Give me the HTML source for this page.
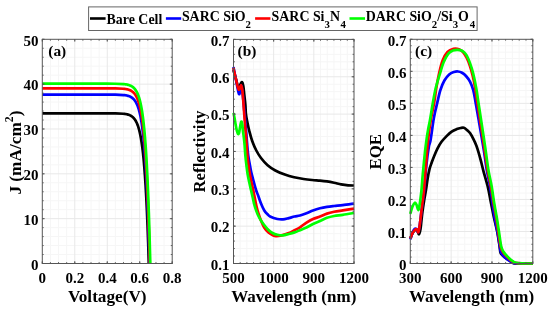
<!DOCTYPE html><html><head><meta charset="utf-8"><style>html,body{margin:0;padding:0;background:#fff;width:550px;height:313px;overflow:hidden}svg{display:block}text{font-family:"Liberation Serif", "Times New Roman", serif;font-weight:bold;fill:#000}</style></head><body>
<svg width="550" height="313" viewBox="0 0 550 313">
<rect width="550" height="313" fill="#fff"/>
<defs>
<clipPath id="ca"><rect x="40.8" y="39.3" width="132.9" height="225.7"/></clipPath>
<clipPath id="cb"><rect x="232" y="39.4" width="123.5" height="225.6"/></clipPath>
<clipPath id="cc"><rect x="408.8" y="39.3" width="125.5" height="225.7"/></clipPath>
</defs>
<path d="M50.42 39.3V263.5M58.54 39.3V263.5M66.66 39.3V263.5M82.89 39.3V263.5M91.01 39.3V263.5M99.13 39.3V263.5M115.37 39.3V263.5M123.49 39.3V263.5M131.61 39.3V263.5M147.84 39.3V263.5M155.96 39.3V263.5M164.08 39.3V263.5M42.3 254.53H172.2M42.3 245.56H172.2M42.3 236.6H172.2M42.3 227.63H172.2M42.3 209.69H172.2M42.3 200.72H172.2M42.3 191.76H172.2M42.3 182.79H172.2M42.3 164.85H172.2M42.3 155.88H172.2M42.3 146.92H172.2M42.3 137.95H172.2M42.3 120.01H172.2M42.3 111.04H172.2M42.3 102.08H172.2M42.3 93.11H172.2M42.3 75.17H172.2M42.3 66.2H172.2M42.3 57.24H172.2M42.3 48.27H172.2" stroke="#f6f6f6" stroke-width="1" fill="none"/>
<path d="M74.77 39.3V263.5M107.25 39.3V263.5M139.72 39.3V263.5M42.3 218.66H172.2M42.3 173.82H172.2M42.3 128.98H172.2M42.3 84.14H172.2" stroke="#e8e8e8" stroke-width="1" fill="none"/>
<polyline points="42.3,113.29 50.42,113.29 58.54,113.29 66.66,113.29 74.77,113.29 82.89,113.29 91.01,113.29 99.13,113.29 107.25,113.3 115.37,113.36 123.49,113.75 124.14,113.83 124.79,113.91 125.44,114.01 126.09,114.13 126.73,114.26 127.38,114.42 128.03,114.6 128.68,114.81 129.33,115.05 129.98,115.33 130.63,115.66 131.28,116.04 131.93,116.48 132.58,116.99 133.23,117.58 133.88,118.26 134.53,119.06 135.18,119.98 135.83,121.05 136.48,122.29 137.13,123.72 137.78,125.39 138.43,127.32 139.08,129.56 139.72,132.16 140.37,135.18 141.02,138.67 141.67,142.73 142.32,147.43 142.97,152.88 143.62,159.2 144.27,166.54 144.92,175.04 145.57,184.9 146.22,196.34 146.87,209.6 147.52,224.98 148.17,242.82 148.82,263.5 148.82,263.5" stroke="#000" stroke-width="2.7" fill="none" stroke-linejoin="round" clip-path="url(#ca)"/>
<polyline points="42.3,94.59 50.42,94.59 58.54,94.59 66.66,94.59 74.77,94.59 82.89,94.59 91.01,94.59 99.13,94.59 107.25,94.6 115.37,94.66 123.49,95.04 124.14,95.11 124.79,95.19 125.44,95.29 126.09,95.4 126.73,95.53 127.38,95.68 128.03,95.86 128.68,96.06 129.33,96.3 129.98,96.57 130.63,96.89 131.28,97.26 131.93,97.68 132.58,98.18 133.23,98.75 133.88,99.41 134.53,100.18 135.18,101.08 135.83,102.11 136.48,103.31 137.13,104.71 137.78,106.32 138.43,108.2 139.08,110.37 139.72,112.89 140.37,115.82 141.02,119.21 141.67,123.14 142.32,127.69 142.97,132.98 143.62,139.11 144.27,146.22 144.92,154.47 145.57,164.03 146.22,175.12 146.87,187.98 147.52,202.89 148.17,220.19 148.82,240.24 149.47,263.5 149.47,263.5" stroke="#0000ff" stroke-width="2.7" fill="none" stroke-linejoin="round" clip-path="url(#ca)"/>
<polyline points="42.3,88.31 50.42,88.31 58.54,88.31 66.66,88.31 74.77,88.31 82.89,88.31 91.01,88.31 99.13,88.31 107.25,88.32 115.37,88.38 123.49,88.74 124.14,88.81 124.79,88.89 125.44,88.99 126.09,89.1 126.73,89.22 127.38,89.37 128.03,89.54 128.68,89.73 129.33,89.96 129.98,90.22 130.63,90.53 131.28,90.88 131.93,91.29 132.58,91.77 133.23,92.32 133.88,92.96 134.53,93.7 135.18,94.56 135.83,95.56 136.48,96.72 137.13,98.06 137.78,99.61 138.43,101.42 139.08,103.51 139.72,105.94 140.37,108.75 141.02,112.02 141.67,115.81 142.32,120.2 142.97,125.29 143.62,131.19 144.27,138.04 144.92,145.98 145.57,155.19 146.22,165.87 146.87,178.26 147.52,192.62 148.17,209.27 148.82,228.59 149.47,250.99 149.79,263.5" stroke="#ff0000" stroke-width="2.7" fill="none" stroke-linejoin="round" clip-path="url(#ca)"/>
<polyline points="42.3,83.69 50.42,83.69 58.54,83.69 66.66,83.69 74.77,83.69 82.89,83.69 91.01,83.69 99.13,83.69 107.25,83.7 115.37,83.75 123.49,84.09 124.14,84.15 124.79,84.23 125.44,84.31 126.09,84.41 126.73,84.53 127.38,84.66 128.03,84.82 128.68,85 129.33,85.2 129.98,85.45 130.63,85.73 131.28,86.05 131.93,86.43 132.58,86.87 133.23,87.37 133.88,87.96 134.53,88.64 135.18,89.43 135.83,90.35 136.48,91.41 137.13,92.64 137.78,94.07 138.43,95.73 139.08,97.65 139.72,99.88 140.37,102.47 141.02,105.47 141.67,108.94 142.32,112.98 142.97,117.65 143.62,123.08 144.27,129.37 144.92,136.66 145.57,145.12 146.22,154.93 146.87,166.3 147.52,179.49 148.17,194.79 148.82,212.53 149.47,233.1 150.12,256.96 150.28,263.5" stroke="#00ff00" stroke-width="2.7" fill="none" stroke-linejoin="round" clip-path="url(#ca)"/>
<path d="M42.3 263.5v-1.4M42.3 39.3v1.4M50.42 263.5v-1.4M50.42 39.3v1.4M58.54 263.5v-1.4M58.54 39.3v1.4M66.66 263.5v-1.4M66.66 39.3v1.4M74.77 263.5v-1.4M74.77 39.3v1.4M82.89 263.5v-1.4M82.89 39.3v1.4M91.01 263.5v-1.4M91.01 39.3v1.4M99.13 263.5v-1.4M99.13 39.3v1.4M107.25 263.5v-1.4M107.25 39.3v1.4M115.37 263.5v-1.4M115.37 39.3v1.4M123.49 263.5v-1.4M123.49 39.3v1.4M131.61 263.5v-1.4M131.61 39.3v1.4M139.72 263.5v-1.4M139.72 39.3v1.4M147.84 263.5v-1.4M147.84 39.3v1.4M155.96 263.5v-1.4M155.96 39.3v1.4M164.08 263.5v-1.4M164.08 39.3v1.4M172.2 263.5v-1.4M172.2 39.3v1.4M42.3 263.5v-2.4M42.3 39.3v2.4M74.77 263.5v-2.4M74.77 39.3v2.4M107.25 263.5v-2.4M107.25 39.3v2.4M139.72 263.5v-2.4M139.72 39.3v2.4M172.2 263.5v-2.4M172.2 39.3v2.4M42.3 263.5h1.4M172.2 263.5h-1.4M42.3 254.53h1.4M172.2 254.53h-1.4M42.3 245.56h1.4M172.2 245.56h-1.4M42.3 236.6h1.4M172.2 236.6h-1.4M42.3 227.63h1.4M172.2 227.63h-1.4M42.3 218.66h1.4M172.2 218.66h-1.4M42.3 209.69h1.4M172.2 209.69h-1.4M42.3 200.72h1.4M172.2 200.72h-1.4M42.3 191.76h1.4M172.2 191.76h-1.4M42.3 182.79h1.4M172.2 182.79h-1.4M42.3 173.82h1.4M172.2 173.82h-1.4M42.3 164.85h1.4M172.2 164.85h-1.4M42.3 155.88h1.4M172.2 155.88h-1.4M42.3 146.92h1.4M172.2 146.92h-1.4M42.3 137.95h1.4M172.2 137.95h-1.4M42.3 128.98h1.4M172.2 128.98h-1.4M42.3 120.01h1.4M172.2 120.01h-1.4M42.3 111.04h1.4M172.2 111.04h-1.4M42.3 102.08h1.4M172.2 102.08h-1.4M42.3 93.11h1.4M172.2 93.11h-1.4M42.3 84.14h1.4M172.2 84.14h-1.4M42.3 75.17h1.4M172.2 75.17h-1.4M42.3 66.2h1.4M172.2 66.2h-1.4M42.3 57.24h1.4M172.2 57.24h-1.4M42.3 48.27h1.4M172.2 48.27h-1.4M42.3 39.3h1.4M172.2 39.3h-1.4M42.3 263.5h2.4M172.2 263.5h-2.4M42.3 218.66h2.4M172.2 218.66h-2.4M42.3 173.82h2.4M172.2 173.82h-2.4M42.3 128.98h2.4M172.2 128.98h-2.4M42.3 84.14h2.4M172.2 84.14h-2.4M42.3 39.3h2.4M172.2 39.3h-2.4" stroke="#555555" stroke-width="0.9" fill="none"/>
<rect x="42.3" y="39.3" width="129.9" height="224.2" fill="none" stroke="#555555" stroke-width="1"/>
<path d="M240.19 39.4V263.5M246.89 39.4V263.5M253.58 39.4V263.5M260.28 39.4V263.5M266.97 39.4V263.5M280.36 39.4V263.5M287.06 39.4V263.5M293.75 39.4V263.5M300.44 39.4V263.5M307.14 39.4V263.5M320.53 39.4V263.5M327.22 39.4V263.5M333.92 39.4V263.5M340.61 39.4V263.5M347.31 39.4V263.5M233.5 256.03H354M233.5 248.56H354M233.5 241.09H354M233.5 233.62H354M233.5 218.68H354M233.5 211.21H354M233.5 203.74H354M233.5 196.27H354M233.5 181.33H354M233.5 173.86H354M233.5 166.39H354M233.5 158.92H354M233.5 143.98H354M233.5 136.51H354M233.5 129.04H354M233.5 121.57H354M233.5 106.63H354M233.5 99.16H354M233.5 91.69H354M233.5 84.22H354M233.5 69.28H354M233.5 61.81H354M233.5 54.34H354M233.5 46.87H354" stroke="#f6f6f6" stroke-width="1" fill="none"/>
<path d="M273.67 39.4V263.5M313.83 39.4V263.5M233.5 226.15H354M233.5 188.8H354M233.5 151.45H354M233.5 114.1H354M233.5 76.75H354" stroke="#e8e8e8" stroke-width="1" fill="none"/>
<path d="M233.4 70C233.83 71.5 235.12 75.83 236 79C236.88 82.17 237.95 88.17 238.7 89C239.45 89.83 239.93 85.13 240.5 84C241.07 82.87 241.63 81.87 242.1 82.2C242.57 82.53 242.93 83.87 243.3 86C243.67 88.13 243.95 91.83 244.3 95C244.65 98.17 245.13 101.83 245.4 105C245.67 108.17 245.58 111.17 245.9 114C246.22 116.83 246.73 119.17 247.3 122C247.87 124.83 248.48 127.83 249.3 131C250.12 134.17 251.03 137.75 252.2 141C253.37 144.25 254.83 147.67 256.3 150.5C257.77 153.33 259.12 155.55 261 158C262.88 160.45 265.22 163.12 267.6 165.2C269.98 167.28 272.43 168.93 275.3 170.5C278.17 172.07 281.67 173.47 284.8 174.6C287.93 175.73 290.97 176.57 294.1 177.3C297.23 178.03 300.58 178.55 303.6 179C306.62 179.45 309.47 179.73 312.2 180C314.93 180.27 317.53 180.37 320 180.6C322.47 180.83 324.65 181.05 327 181.4C329.35 181.75 331.75 182.22 334.1 182.7C336.45 183.18 338.77 183.87 341.1 184.3C343.43 184.73 345.95 185.1 348.1 185.3C350.25 185.5 353.02 185.47 354 185.5" stroke="#000" stroke-width="2.7" fill="none" stroke-linejoin="round" stroke-linecap="butt" clip-path="url(#cb)"/>
<path d="M233.4 67.1C233.83 69.25 235.07 75.52 236 80C236.93 84.48 238.23 92.67 239 94C239.77 95.33 240.22 89.33 240.6 88C240.98 86.67 240.93 84.83 241.3 86C241.67 87.17 242.3 90.83 242.8 95C243.3 99.17 243.8 105.67 244.3 111C244.8 116.33 245.32 121.33 245.8 127C246.28 132.67 246.78 140.17 247.2 145C247.62 149.83 247.88 152.83 248.3 156C248.72 159.17 249.22 161.33 249.7 164C250.18 166.67 250.65 169.5 251.2 172C251.75 174.5 252.43 176.83 253 179C253.57 181.17 254.07 183.08 254.6 185C255.13 186.92 255.67 188.9 256.2 190.5C256.73 192.1 257 192.43 257.8 194.6C258.6 196.77 259.92 200.85 261 203.5C262.08 206.15 263.22 208.7 264.3 210.5C265.38 212.3 266.53 213.3 267.5 214.3C268.47 215.3 268.47 215.72 270.1 216.5C271.73 217.28 275.15 218.52 277.3 219C279.45 219.48 281.08 219.55 283 219.4C284.92 219.25 286.88 218.58 288.8 218.1C290.72 217.62 292.63 216.93 294.5 216.5C296.37 216.07 298 216.05 300 215.5C302 214.95 304.33 214.03 306.5 213.2C308.67 212.37 310.75 211.32 313 210.5C315.25 209.68 317.67 208.9 320 208.3C322.33 207.7 324.65 207.28 327 206.9C329.35 206.52 331.47 206.3 334.1 206C336.73 205.7 339.48 205.5 342.8 205.1C346.12 204.7 352.13 203.85 354 203.6" stroke="#0000ff" stroke-width="2.7" fill="none" stroke-linejoin="round" stroke-linecap="butt" clip-path="url(#cb)"/>
<path d="M233.4 67.9C233.83 69.83 235.12 75.88 236 79.5C236.88 83.12 237.87 88.68 238.7 89.6C239.53 90.52 240.4 84.93 241 85C241.6 85.07 241.93 87.5 242.3 90C242.67 92.5 242.92 96.5 243.2 100C243.48 103.5 243.7 107 244 111C244.3 115 244.68 120 245 124C245.32 128 245.63 131.5 245.9 135C246.17 138.5 246.33 141.33 246.6 145C246.87 148.67 247.17 153.5 247.5 157C247.83 160.5 248.22 163.17 248.6 166C248.98 168.83 249.33 171.33 249.8 174C250.27 176.67 250.83 179.33 251.4 182C251.97 184.67 252.63 187.33 253.2 190C253.77 192.67 254.27 195.33 254.8 198C255.33 200.67 255.77 203.33 256.4 206C257.03 208.67 257.83 211.58 258.6 214C259.37 216.42 260.07 218.25 261 220.5C261.93 222.75 262.95 225.5 264.2 227.5C265.45 229.5 267.12 231.25 268.5 232.5C269.88 233.75 271.25 234.4 272.5 235C273.75 235.6 274.48 236.03 276 236.1C277.52 236.17 279.47 235.9 281.6 235.4C283.73 234.9 286.65 233.97 288.8 233.1C290.95 232.23 292.63 231.17 294.5 230.2C296.37 229.23 298 228.57 300 227.3C302 226.03 304.33 223.98 306.5 222.6C308.67 221.22 310.75 220 313 219C315.25 218 317.67 217.5 320 216.6C322.33 215.7 324.65 214.4 327 213.6C329.35 212.8 331.47 212.33 334.1 211.8C336.73 211.27 339.48 210.92 342.8 210.4C346.12 209.88 352.13 208.98 354 208.7" stroke="#ff0000" stroke-width="2.7" fill="none" stroke-linejoin="round" stroke-linecap="butt" clip-path="url(#cb)"/>
<path d="M233.5 113C233.68 113.92 234.23 116.5 234.6 118.5C234.97 120.5 235.33 123 235.7 125C236.07 127 236.43 129.03 236.8 130.5C237.17 131.97 237.53 133.38 237.9 133.8C238.27 134.22 238.63 134.13 239 133C239.37 131.87 239.77 128.78 240.1 127C240.43 125.22 240.73 123.17 241 122.3C241.27 121.43 241.47 121.35 241.7 121.8C241.93 122.25 242.2 123.53 242.4 125C242.6 126.47 242.65 128.43 242.9 130.6C243.15 132.77 243.62 135.6 243.9 138C244.18 140.4 244.35 142 244.6 145C244.85 148 245.1 152.67 245.4 156C245.7 159.33 246.03 162 246.4 165C246.77 168 247.13 171.17 247.6 174C248.07 176.83 248.63 179.33 249.2 182C249.77 184.67 250.43 187.5 251 190C251.57 192.5 252 194.38 252.6 197C253.2 199.62 253.78 202.87 254.6 205.7C255.42 208.53 256.52 211.65 257.5 214C258.48 216.35 259.42 218 260.5 219.8C261.58 221.6 262.75 223.18 264 224.8C265.25 226.42 266.58 228.13 268 229.5C269.42 230.87 270.95 232.12 272.5 233C274.05 233.88 275.55 234.42 277.3 234.8C279.05 235.18 281.08 235.43 283 235.3C284.92 235.17 286.88 234.48 288.8 234C290.72 233.52 292.63 233.03 294.5 232.4C296.37 231.77 298 231.02 300 230.2C302 229.38 304.33 228.53 306.5 227.5C308.67 226.47 310.75 225.08 313 224C315.25 222.92 317.67 222.03 320 221C322.33 219.97 324.65 218.63 327 217.8C329.35 216.97 331.47 216.5 334.1 216C336.73 215.5 339.48 215.32 342.8 214.8C346.12 214.28 352.13 213.22 354 212.9" stroke="#00ff00" stroke-width="2.7" fill="none" stroke-linejoin="round" stroke-linecap="butt" clip-path="url(#cb)"/>
<path d="M233.5 263.5v-1.4M233.5 39.4v1.4M240.19 263.5v-1.4M240.19 39.4v1.4M246.89 263.5v-1.4M246.89 39.4v1.4M253.58 263.5v-1.4M253.58 39.4v1.4M260.28 263.5v-1.4M260.28 39.4v1.4M266.97 263.5v-1.4M266.97 39.4v1.4M273.67 263.5v-1.4M273.67 39.4v1.4M280.36 263.5v-1.4M280.36 39.4v1.4M287.06 263.5v-1.4M287.06 39.4v1.4M293.75 263.5v-1.4M293.75 39.4v1.4M300.44 263.5v-1.4M300.44 39.4v1.4M307.14 263.5v-1.4M307.14 39.4v1.4M313.83 263.5v-1.4M313.83 39.4v1.4M320.53 263.5v-1.4M320.53 39.4v1.4M327.22 263.5v-1.4M327.22 39.4v1.4M333.92 263.5v-1.4M333.92 39.4v1.4M340.61 263.5v-1.4M340.61 39.4v1.4M347.31 263.5v-1.4M347.31 39.4v1.4M354 263.5v-1.4M354 39.4v1.4M233.5 263.5v-2.4M233.5 39.4v2.4M273.67 263.5v-2.4M273.67 39.4v2.4M313.83 263.5v-2.4M313.83 39.4v2.4M354 263.5v-2.4M354 39.4v2.4M233.5 263.5h1.4M354 263.5h-1.4M233.5 256.03h1.4M354 256.03h-1.4M233.5 248.56h1.4M354 248.56h-1.4M233.5 241.09h1.4M354 241.09h-1.4M233.5 233.62h1.4M354 233.62h-1.4M233.5 226.15h1.4M354 226.15h-1.4M233.5 218.68h1.4M354 218.68h-1.4M233.5 211.21h1.4M354 211.21h-1.4M233.5 203.74h1.4M354 203.74h-1.4M233.5 196.27h1.4M354 196.27h-1.4M233.5 188.8h1.4M354 188.8h-1.4M233.5 181.33h1.4M354 181.33h-1.4M233.5 173.86h1.4M354 173.86h-1.4M233.5 166.39h1.4M354 166.39h-1.4M233.5 158.92h1.4M354 158.92h-1.4M233.5 151.45h1.4M354 151.45h-1.4M233.5 143.98h1.4M354 143.98h-1.4M233.5 136.51h1.4M354 136.51h-1.4M233.5 129.04h1.4M354 129.04h-1.4M233.5 121.57h1.4M354 121.57h-1.4M233.5 114.1h1.4M354 114.1h-1.4M233.5 106.63h1.4M354 106.63h-1.4M233.5 99.16h1.4M354 99.16h-1.4M233.5 91.69h1.4M354 91.69h-1.4M233.5 84.22h1.4M354 84.22h-1.4M233.5 76.75h1.4M354 76.75h-1.4M233.5 69.28h1.4M354 69.28h-1.4M233.5 61.81h1.4M354 61.81h-1.4M233.5 54.34h1.4M354 54.34h-1.4M233.5 46.87h1.4M354 46.87h-1.4M233.5 39.4h1.4M354 39.4h-1.4M233.5 263.5h2.4M354 263.5h-2.4M233.5 226.15h2.4M354 226.15h-2.4M233.5 188.8h2.4M354 188.8h-2.4M233.5 151.45h2.4M354 151.45h-2.4M233.5 114.1h2.4M354 114.1h-2.4M233.5 76.75h2.4M354 76.75h-2.4M233.5 39.4h2.4M354 39.4h-2.4" stroke="#555555" stroke-width="0.9" fill="none"/>
<rect x="233.5" y="39.4" width="120.5" height="224.1" fill="none" stroke="#555555" stroke-width="1"/>
<path d="M417.11 39.3V263.5M423.91 39.3V263.5M430.72 39.3V263.5M437.52 39.3V263.5M444.33 39.3V263.5M457.94 39.3V263.5M464.74 39.3V263.5M471.55 39.3V263.5M478.36 39.3V263.5M485.16 39.3V263.5M498.77 39.3V263.5M505.58 39.3V263.5M512.38 39.3V263.5M519.19 39.3V263.5M525.99 39.3V263.5M410.3 257.09H532.8M410.3 250.69H532.8M410.3 244.28H532.8M410.3 237.88H532.8M410.3 225.07H532.8M410.3 218.66H532.8M410.3 212.25H532.8M410.3 205.85H532.8M410.3 193.04H532.8M410.3 186.63H532.8M410.3 180.23H532.8M410.3 173.82H532.8M410.3 161.01H532.8M410.3 154.6H532.8M410.3 148.2H532.8M410.3 141.79H532.8M410.3 128.98H532.8M410.3 122.57H532.8M410.3 116.17H532.8M410.3 109.76H532.8M410.3 96.95H532.8M410.3 90.55H532.8M410.3 84.14H532.8M410.3 77.73H532.8M410.3 64.92H532.8M410.3 58.52H532.8M410.3 52.11H532.8M410.3 45.71H532.8" stroke="#f6f6f6" stroke-width="1" fill="none"/>
<path d="M451.13 39.3V263.5M491.97 39.3V263.5M410.3 231.47H532.8M410.3 199.44H532.8M410.3 167.41H532.8M410.3 135.39H532.8M410.3 103.36H532.8M410.3 71.33H532.8" stroke="#e8e8e8" stroke-width="1" fill="none"/>
<path d="M410.3 238.5C410.72 237.53 411.9 234.22 412.8 232.7C413.7 231.18 414.9 229.6 415.7 229.4C416.5 229.2 417.05 230.7 417.6 231.5C418.15 232.3 418.52 234.62 419 234.2C419.48 233.78 420.08 231.37 420.5 229C420.92 226.63 421.18 222.83 421.5 220C421.82 217.17 421.95 215.33 422.4 212C422.85 208.67 423.6 203.68 424.2 200C424.8 196.32 425.43 193.45 426 189.9C426.57 186.35 427.02 182.17 427.6 178.7C428.18 175.23 428.83 171.75 429.5 169.1C430.17 166.45 430.85 164.92 431.6 162.8C432.35 160.68 432.98 158.83 434 156.4C435.02 153.97 436.45 150.63 437.7 148.2C438.95 145.77 440.02 143.82 441.5 141.8C442.98 139.78 444.9 137.8 446.6 136.1C448.3 134.4 450 132.77 451.7 131.6C453.4 130.43 455.3 129.7 456.8 129.1C458.3 128.5 459.52 128.22 460.7 128C461.88 127.78 462.83 127.45 463.9 127.8C464.97 128.15 466.08 129.23 467.1 130.1C468.12 130.97 468.98 131.58 470 133C471.02 134.42 472.13 136.48 473.2 138.6C474.27 140.72 475.48 143.32 476.4 145.7C477.32 148.08 477.92 150.23 478.7 152.9C479.48 155.57 480.3 158.63 481.1 161.7C481.9 164.77 482.42 167.25 483.5 171.3C484.58 175.35 486.38 180.9 487.6 186C488.82 191.1 489.73 196.6 490.8 201.9C491.87 207.2 492.92 212.78 494 217.8C495.08 222.82 496.38 227.38 497.3 232C498.22 236.62 498.93 241.98 499.5 245.5C500.07 249.02 499.8 251.12 500.7 253.1C501.6 255.08 503.35 256.12 504.9 257.4C506.45 258.68 508.58 259.83 510 260.8C511.42 261.77 511.73 262.73 513.4 263.2C515.07 263.67 516.73 263.53 520 263.6C523.27 263.67 530.83 263.6 533 263.6" stroke="#000" stroke-width="2.7" fill="none" stroke-linejoin="round" stroke-linecap="butt" clip-path="url(#cc)"/>
<path d="M410.3 239.4C410.67 238.28 411.77 234.45 412.5 232.7C413.23 230.95 413.98 229.43 414.7 228.9C415.42 228.37 416.22 228.98 416.8 229.5C417.38 230.02 417.75 232.5 418.2 232C418.65 231.5 419.03 229.33 419.5 226.5C419.97 223.67 420.5 218.92 421 215C421.5 211.08 422 206.83 422.5 203C423 199.17 423.33 198.5 424 192C424.67 185.5 425.7 171.5 426.5 164C427.3 156.5 428.12 151 428.8 147C429.48 143 429.82 144.48 430.6 140C431.38 135.52 432.75 124.77 433.5 120.1C434.25 115.43 434.47 114.92 435.1 112C435.73 109.08 436.42 106.27 437.3 102.6C438.18 98.93 439.22 93.68 440.4 90C441.58 86.32 442.93 83.1 444.4 80.5C445.87 77.9 447.6 75.82 449.2 74.4C450.8 72.98 452.53 72.48 454 72C455.47 71.52 456.67 71.37 458 71.5C459.33 71.63 460.67 72.05 462 72.8C463.33 73.55 464.67 74.53 466 76C467.33 77.47 468.8 79.27 470 81.6C471.2 83.93 472.27 86.53 473.2 90C474.13 93.47 474.55 96.62 475.6 102.4C476.65 108.18 478.13 116.77 479.5 124.7C480.87 132.63 482.58 142.45 483.8 150C485.02 157.55 485.77 164 486.8 170C487.83 176 489.07 180.67 490 186C490.93 191.33 491.62 196.7 492.4 202C493.18 207.3 493.85 212.8 494.7 217.8C495.55 222.8 496.65 227.3 497.5 232C498.35 236.7 499.22 242.58 499.8 246C500.38 249.42 500.13 250.58 501 252.5C501.87 254.42 503.5 256.08 505 257.5C506.5 258.92 508.5 260.05 510 261C511.5 261.95 510.17 262.78 514 263.2C517.83 263.62 529.83 263.45 533 263.5" stroke="#0000ff" stroke-width="2.7" fill="none" stroke-linejoin="round" stroke-linecap="butt" clip-path="url(#cc)"/>
<path d="M410.3 238.5C410.72 237.53 411.93 234.23 412.8 232.7C413.67 231.17 414.78 229.78 415.5 229.3C416.22 228.82 416.63 229.32 417.1 229.8C417.57 230.28 417.9 232.75 418.3 232.2C418.7 231.65 419.05 229.37 419.5 226.5C419.95 223.63 420.53 218.75 421 215C421.47 211.25 421.85 207.72 422.3 204C422.75 200.28 423.15 198.37 423.7 192.7C424.25 187.03 425.05 176.78 425.6 170C426.15 163.22 426.55 157.33 427 152C427.45 146.67 427.67 143.32 428.3 138C428.93 132.68 429.82 126 430.8 120.1C431.78 114.2 433.28 107.95 434.2 102.6C435.12 97.25 435.47 92.93 436.3 88C437.13 83.07 438.15 77.58 439.2 73C440.25 68.42 441.22 64 442.6 60.5C443.98 57 445.68 53.95 447.5 52C449.32 50.05 451.58 49.27 453.5 48.8C455.42 48.33 457.42 48.67 459 49.2C460.58 49.73 461.75 50.62 463 52C464.25 53.38 465.37 55.25 466.5 57.5C467.63 59.75 468.8 62.58 469.8 65.5C470.8 68.42 471.67 71.58 472.5 75C473.33 78.42 474 81.43 474.8 86C475.6 90.57 476.3 95.95 477.3 102.4C478.3 108.85 479.63 117.1 480.8 124.7C481.97 132.3 483.17 140.45 484.3 148C485.43 155.55 486.52 163.67 487.6 170C488.68 176.33 489.83 180.67 490.8 186C491.77 191.33 492.5 196.67 493.4 202C494.3 207.33 495.38 213 496.2 218C497.02 223 497.58 227.33 498.3 232C499.02 236.67 499.8 242.75 500.5 246C501.2 249.25 501.33 249.6 502.5 251.5C503.67 253.4 505.83 255.72 507.5 257.4C509.17 259.08 510.92 260.63 512.5 261.6C514.08 262.57 513.58 262.88 517 263.2C520.42 263.52 530.33 263.45 533 263.5" stroke="#ff0000" stroke-width="2.7" fill="none" stroke-linejoin="round" stroke-linecap="butt" clip-path="url(#cc)"/>
<path d="M410.3 213.8C410.67 212.58 411.73 208.35 412.5 206.5C413.27 204.65 414.22 202.95 414.9 202.7C415.58 202.45 416.05 203.78 416.6 205C417.15 206.22 417.73 209.83 418.2 210C418.67 210.17 419.05 207.67 419.4 206C419.75 204.33 419.95 202.67 420.3 200C420.65 197.33 421.08 194.33 421.5 190C421.92 185.67 422.22 180.33 422.8 174C423.38 167.67 424.33 158.05 425 152C425.67 145.95 426.23 141.7 426.8 137.7C427.37 133.7 427.87 130.93 428.4 128C428.93 125.07 429.25 124.33 430 120.1C430.75 115.87 431.98 107.78 432.9 102.6C433.82 97.42 434.4 93.57 435.5 89C436.6 84.43 438.17 79.63 439.5 75.2C440.83 70.77 442.05 65.97 443.5 62.4C444.95 58.83 446.65 55.77 448.2 53.8C449.75 51.83 451.27 51.27 452.8 50.6C454.33 49.93 455.87 49.77 457.4 49.8C458.93 49.83 460.53 49.97 462 50.8C463.47 51.63 464.87 52.73 466.2 54.8C467.53 56.87 468.83 60.07 470 63.2C471.17 66.33 472.17 69.47 473.2 73.6C474.23 77.73 475.33 83.2 476.2 88C477.07 92.8 477.47 96.28 478.4 102.4C479.33 108.52 480.65 117.1 481.8 124.7C482.95 132.3 484.2 140.45 485.3 148C486.4 155.55 487.35 163.67 488.4 170C489.45 176.33 490.67 180.68 491.6 186C492.53 191.32 493.13 196.6 494 201.9C494.87 207.2 495.97 212.78 496.8 217.8C497.63 222.82 498.27 227.23 499 232C499.73 236.77 500.48 243.17 501.2 246.4C501.92 249.63 502.12 249.57 503.3 251.4C504.48 253.23 506.62 255.7 508.3 257.4C509.98 259.1 511.78 260.63 513.4 261.6C515.02 262.57 514.73 262.88 518 263.2C521.27 263.52 530.5 263.45 533 263.5" stroke="#00ff00" stroke-width="2.7" fill="none" stroke-linejoin="round" stroke-linecap="butt" clip-path="url(#cc)"/>
<path d="M410.3 263.5v-1.4M410.3 39.3v1.4M417.11 263.5v-1.4M417.11 39.3v1.4M423.91 263.5v-1.4M423.91 39.3v1.4M430.72 263.5v-1.4M430.72 39.3v1.4M437.52 263.5v-1.4M437.52 39.3v1.4M444.33 263.5v-1.4M444.33 39.3v1.4M451.13 263.5v-1.4M451.13 39.3v1.4M457.94 263.5v-1.4M457.94 39.3v1.4M464.74 263.5v-1.4M464.74 39.3v1.4M471.55 263.5v-1.4M471.55 39.3v1.4M478.36 263.5v-1.4M478.36 39.3v1.4M485.16 263.5v-1.4M485.16 39.3v1.4M491.97 263.5v-1.4M491.97 39.3v1.4M498.77 263.5v-1.4M498.77 39.3v1.4M505.58 263.5v-1.4M505.58 39.3v1.4M512.38 263.5v-1.4M512.38 39.3v1.4M519.19 263.5v-1.4M519.19 39.3v1.4M525.99 263.5v-1.4M525.99 39.3v1.4M532.8 263.5v-1.4M532.8 39.3v1.4M410.3 263.5v-2.4M410.3 39.3v2.4M451.13 263.5v-2.4M451.13 39.3v2.4M491.97 263.5v-2.4M491.97 39.3v2.4M532.8 263.5v-2.4M532.8 39.3v2.4M410.3 263.5h1.4M532.8 263.5h-1.4M410.3 257.09h1.4M532.8 257.09h-1.4M410.3 250.69h1.4M532.8 250.69h-1.4M410.3 244.28h1.4M532.8 244.28h-1.4M410.3 237.88h1.4M532.8 237.88h-1.4M410.3 231.47h1.4M532.8 231.47h-1.4M410.3 225.07h1.4M532.8 225.07h-1.4M410.3 218.66h1.4M532.8 218.66h-1.4M410.3 212.25h1.4M532.8 212.25h-1.4M410.3 205.85h1.4M532.8 205.85h-1.4M410.3 199.44h1.4M532.8 199.44h-1.4M410.3 193.04h1.4M532.8 193.04h-1.4M410.3 186.63h1.4M532.8 186.63h-1.4M410.3 180.23h1.4M532.8 180.23h-1.4M410.3 173.82h1.4M532.8 173.82h-1.4M410.3 167.41h1.4M532.8 167.41h-1.4M410.3 161.01h1.4M532.8 161.01h-1.4M410.3 154.6h1.4M532.8 154.6h-1.4M410.3 148.2h1.4M532.8 148.2h-1.4M410.3 141.79h1.4M532.8 141.79h-1.4M410.3 135.39h1.4M532.8 135.39h-1.4M410.3 128.98h1.4M532.8 128.98h-1.4M410.3 122.57h1.4M532.8 122.57h-1.4M410.3 116.17h1.4M532.8 116.17h-1.4M410.3 109.76h1.4M532.8 109.76h-1.4M410.3 103.36h1.4M532.8 103.36h-1.4M410.3 96.95h1.4M532.8 96.95h-1.4M410.3 90.55h1.4M532.8 90.55h-1.4M410.3 84.14h1.4M532.8 84.14h-1.4M410.3 77.73h1.4M532.8 77.73h-1.4M410.3 71.33h1.4M532.8 71.33h-1.4M410.3 64.92h1.4M532.8 64.92h-1.4M410.3 58.52h1.4M532.8 58.52h-1.4M410.3 52.11h1.4M532.8 52.11h-1.4M410.3 45.71h1.4M532.8 45.71h-1.4M410.3 39.3h1.4M532.8 39.3h-1.4M410.3 263.5h2.4M532.8 263.5h-2.4M410.3 231.47h2.4M532.8 231.47h-2.4M410.3 199.44h2.4M532.8 199.44h-2.4M410.3 167.41h2.4M532.8 167.41h-2.4M410.3 135.39h2.4M532.8 135.39h-2.4M410.3 103.36h2.4M532.8 103.36h-2.4M410.3 71.33h2.4M532.8 71.33h-2.4M410.3 39.3h2.4M532.8 39.3h-2.4" stroke="#555555" stroke-width="0.9" fill="none"/>
<rect x="410.3" y="39.3" width="122.5" height="224.2" fill="none" stroke="#555555" stroke-width="1"/>
<text x="38.4" y="269.8" font-size="15" text-anchor="end">0</text>
<text x="38.4" y="224.96" font-size="15" text-anchor="end">10</text>
<text x="38.4" y="180.12" font-size="15" text-anchor="end">20</text>
<text x="38.4" y="135.28" font-size="15" text-anchor="end">30</text>
<text x="38.4" y="90.44" font-size="15" text-anchor="end">40</text>
<text x="38.4" y="45.6" font-size="15" text-anchor="end">50</text>
<text x="42.3" y="283.1" font-size="15" text-anchor="middle">0</text>
<text x="74.77" y="283.1" font-size="15" text-anchor="middle">0.2</text>
<text x="107.25" y="283.1" font-size="15" text-anchor="middle">0.4</text>
<text x="139.72" y="283.1" font-size="15" text-anchor="middle">0.6</text>
<text x="172.2" y="283.1" font-size="15" text-anchor="middle">0.8</text>
<text x="229.6" y="269.8" font-size="15" text-anchor="end">0.1</text>
<text x="229.6" y="232.45" font-size="15" text-anchor="end">0.2</text>
<text x="229.6" y="195.1" font-size="15" text-anchor="end">0.3</text>
<text x="229.6" y="157.75" font-size="15" text-anchor="end">0.4</text>
<text x="229.6" y="120.4" font-size="15" text-anchor="end">0.5</text>
<text x="229.6" y="83.05" font-size="15" text-anchor="end">0.6</text>
<text x="229.6" y="45.7" font-size="15" text-anchor="end">0.7</text>
<text x="233.5" y="283.1" font-size="15" text-anchor="middle">500</text>
<text x="273.67" y="283.1" font-size="15" text-anchor="middle">1000</text>
<text x="313.83" y="283.1" font-size="15" text-anchor="middle">900</text>
<text x="354" y="283.1" font-size="15" text-anchor="middle">1200</text>
<text x="406.4" y="269.8" font-size="15" text-anchor="end">0</text>
<text x="406.4" y="237.77" font-size="15" text-anchor="end">0.1</text>
<text x="406.4" y="205.74" font-size="15" text-anchor="end">0.2</text>
<text x="406.4" y="173.71" font-size="15" text-anchor="end">0.3</text>
<text x="406.4" y="141.69" font-size="15" text-anchor="end">0.4</text>
<text x="406.4" y="109.66" font-size="15" text-anchor="end">0.5</text>
<text x="406.4" y="77.63" font-size="15" text-anchor="end">0.6</text>
<text x="406.4" y="45.6" font-size="15" text-anchor="end">0.7</text>
<text x="410.3" y="283.1" font-size="15" text-anchor="middle">300</text>
<text x="451.13" y="283.1" font-size="15" text-anchor="middle">600</text>
<text x="491.97" y="283.1" font-size="15" text-anchor="middle">900</text>
<text x="532.8" y="283.1" font-size="15" text-anchor="middle">1200</text>
<text x="107.25" y="301.5" font-size="17.2" text-anchor="middle">Voltage(V)</text>
<text x="293.75" y="301.5" font-size="17" text-anchor="middle">Wavelength (nm)</text>
<text x="471.55" y="301.5" font-size="17" text-anchor="middle">Wavelength (nm)</text>
<text transform="translate(21.3 152.6) rotate(-90)" x="0" y="0" font-size="17.3" text-anchor="middle">J (mA/cm<tspan font-size="11.6" dy="-8.8">2</tspan><tspan dy="8.8">)</tspan></text>
<text transform="translate(205.4 151.5) rotate(-90)" x="0" y="0" font-size="16.8" text-anchor="middle">Reflectivity</text>
<text transform="translate(381.4 151.8) rotate(-90)" x="0" y="0" font-size="16.8" text-anchor="middle">EQE</text>
<text x="48.3" y="55.9" font-size="15.4" text-anchor="start">(a)</text>
<text x="237.5" y="55.9" font-size="15.4" text-anchor="start">(b)</text>
<text x="415.1" y="55.9" font-size="15.4" text-anchor="start">(c)</text>
<rect x="88.6" y="6.9" width="388.5" height="23.6" fill="#fff" stroke="#666" stroke-width="1"/>
<path d="M90 18.5H105.6" stroke="#000" stroke-width="2.6"/>
<path d="M165.9 18.5H181.2" stroke="#0000ff" stroke-width="2.6"/>
<path d="M255.1 18.5H270.4" stroke="#ff0000" stroke-width="2.6"/>
<path d="M349.5 18.5H365" stroke="#00ff00" stroke-width="2.6"/>
<text x="106.6" y="23.8" font-size="13.9" text-anchor="start">Bare Cell</text>
<text x="181.9" y="20.5" font-size="13.9"><tspan y="20.5">SARC SiO</tspan><tspan font-size="10.8" y="27.5">2</tspan></text>
<text x="271.6" y="20.5" font-size="13.9"><tspan y="20.5">SARC Si</tspan><tspan font-size="10.8" y="27.5">3</tspan><tspan y="20.5">N</tspan><tspan font-size="10.8" y="27.5" dx="0.6">4</tspan></text>
<text x="365.8" y="20.5" font-size="13.9"><tspan y="20.5">DARC SiO</tspan><tspan font-size="10.8" y="27.5">2</tspan><tspan y="20.5">/Si</tspan><tspan font-size="10.8" y="27.5">3</tspan><tspan y="20.5">O</tspan><tspan font-size="10.8" y="27.5" dx="0.8">4</tspan></text>
</svg></body></html>
